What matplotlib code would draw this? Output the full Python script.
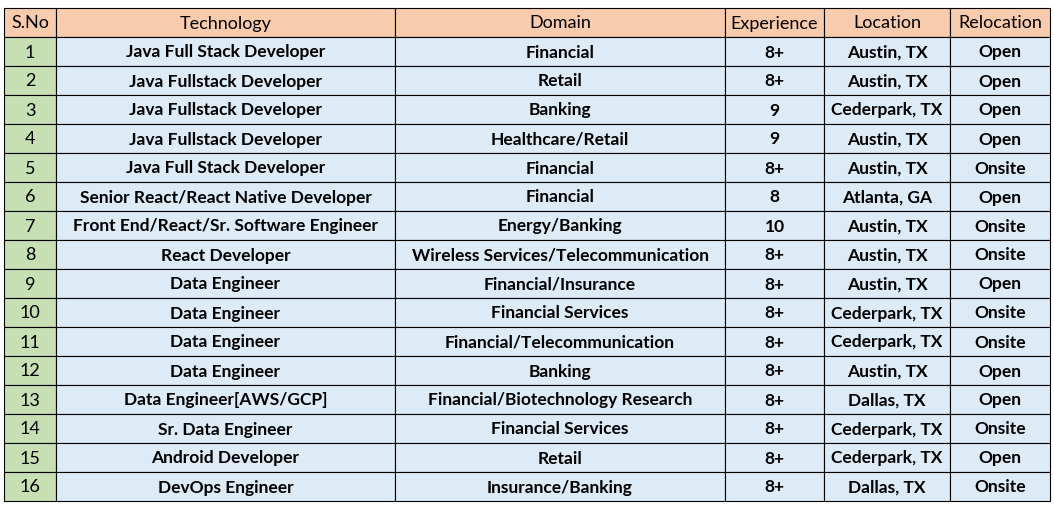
import matplotlib
matplotlib.use("Agg")
import matplotlib.pyplot as plt
from matplotlib.patches import Rectangle

headers = ["S.No", "Technology", "Domain", "Experience", "Location", "Relocation"]
technology = [
    "Java Full Stack Developer", "Java Fullstack Developer", "Java Fullstack Developer",
    "Java Fullstack Developer", "Java Full Stack Developer", "Senior React/React Native Developer",
    "Front End/React/Sr. Software Engineer", "React Developer", "Data Engineer", "Data Engineer",
    "Data Engineer", "Data Engineer", "Data Engineer[AWS/GCP]", "Sr. Data Engineer",
    "Android Developer", "DevOps Engineer",
]
domain = [
    "Financial", "Retail", "Banking", "Healthcare/Retail", "Financial", "Financial",
    "Energy/Banking", "Wireless Services/Telecommunication", "Financial/Insurance",
    "Financial Services", "Financial/Telecommunication", "Banking",
    "Financial/Biotechnology Research", "Financial Services", "Retail", "Insurance/Banking",
]
experience = ["8+", "8+", "9", "9", "8+", "8", "10", "8+", "8+", "8+", "8+", "8+", "8+", "8+", "8+", "8+"]
location = [
    "Austin, TX", "Austin, TX", "Cederpark, TX", "Austin, TX", "Austin, TX", "Atlanta, GA",
    "Austin, TX", "Austin, TX", "Austin, TX", "Cederpark, TX", "Cederpark, TX", "Austin, TX",
    "Dallas, TX", "Cederpark, TX", "Cederpark, TX", "Dallas, TX",
]
relocation = [
    "Open", "Open", "Open", "Open", "Onsite", "Open", "Onsite", "Onsite", "Open", "Onsite",
    "Onsite", "Open", "Open", "Onsite", "Open", "Onsite",
]

# column edges and row geometry in pixels
col_edges = [4, 56, 395, 725, 824, 950, 1050]
top, header_h, row_h = 8, 29, 29.0

fig = plt.figure(figsize=(10.54, 5.05), dpi=100)
ax = fig.add_axes([0, 0, 1, 1])
ax.set_xlim(0, 1054)
ax.set_ylim(505, 0)
ax.axis("off")

font = "Lato"


def cell(c, y, h, color, text, bold, size):
    x0, x1 = col_edges[c], col_edges[c + 1]
    ax.add_patch(Rectangle((x0, y), x1 - x0, h, facecolor=color,
                           edgecolor="black", linewidth=0.8))
    ax.text((x0 + x1) / 2, y + h / 2 + 1, text, ha="center", va="center",
            fontsize=size, family=font, fontweight="bold" if bold else "normal",
            color="black")


for c, h in enumerate(headers):
    cell(c, top, header_h, "#F8CBAD", h, False, 13)

rows = list(zip(technology, domain, experience, location, relocation))
for i, vals in enumerate(rows):
    y = top + header_h + i * row_h
    cell(0, y, row_h, "#C6E0B4", str(i + 1), False, 13)
    for c, v in enumerate(vals, start=1):
        cell(c, y, row_h, "#DDEBF7", v, True, 12.5)

fig.savefig("out.png", dpi=100)
